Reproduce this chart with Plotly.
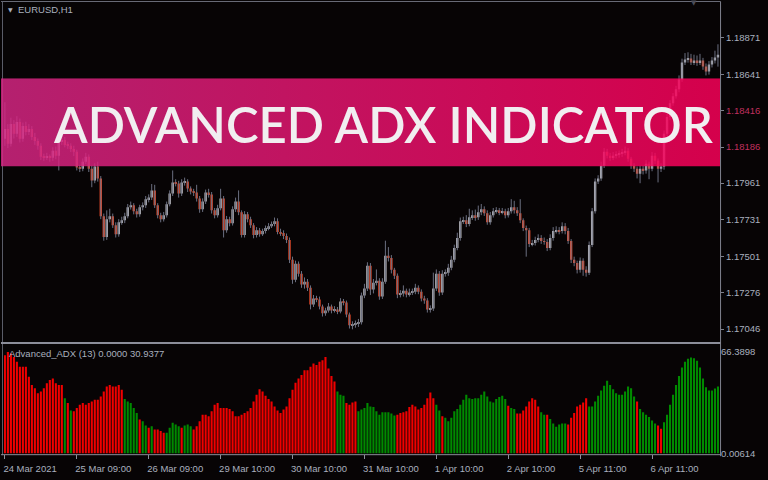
import plotly.graph_objects as go

# ---------------- data ----------------
closes = [
 1.18300, 1.18207, 1.18331, 1.18269, 1.18343, 1.18238, 1.18318, 1.18281, 1.18300, 1.18250,
 1.18225, 1.18194, 1.18126, 1.18120, 1.18126, 1.18120, 1.18163, 1.18132, 1.18219, 1.18231,
 1.18200, 1.18194, 1.18175, 1.18157, 1.18058, 1.18051, 1.18095, 1.18126, 1.18051, 1.17977,
 1.18064, 1.17989, 1.17753, 1.17623, 1.17735, 1.17753, 1.17697, 1.17641, 1.17716, 1.17728,
 1.17753, 1.17809, 1.17822, 1.17784, 1.17766, 1.17809, 1.17822, 1.17859, 1.17871, 1.17915,
 1.17822, 1.17759, 1.17735, 1.17759, 1.17828, 1.17896, 1.17964, 1.17958, 1.17896, 1.17964,
 1.17971, 1.17927, 1.17908, 1.17902, 1.17865, 1.17797, 1.17846, 1.17902, 1.17890, 1.17790,
 1.17759, 1.17803, 1.17865, 1.17666, 1.17735, 1.17710, 1.17797, 1.17846, 1.17778, 1.17635,
 1.17766, 1.17735, 1.17697, 1.17635, 1.17666, 1.17641, 1.17660, 1.17679, 1.17691, 1.17704,
 1.17722, 1.17654, 1.17648, 1.17629, 1.17604, 1.17480, 1.17356, 1.17455, 1.17393, 1.17325,
 1.17343, 1.17306, 1.17201, 1.17238, 1.17232, 1.17188, 1.17145, 1.17163, 1.17188, 1.17163,
 1.17169, 1.17157, 1.17219, 1.17213, 1.17138, 1.17070, 1.17076, 1.17082, 1.17089, 1.17256,
 1.17300, 1.17443, 1.17294, 1.17337, 1.17349, 1.17250, 1.17343, 1.17505, 1.17492, 1.17418,
 1.17381, 1.17263, 1.17269, 1.17287, 1.17263, 1.17275, 1.17281, 1.17306, 1.17281, 1.17238,
 1.17225, 1.17169, 1.17176, 1.17300, 1.17393, 1.17275, 1.17393, 1.17399, 1.17430, 1.17480,
 1.17554, 1.17617, 1.17722, 1.17728, 1.17704, 1.17747, 1.17759, 1.17747, 1.17778, 1.17797,
 1.17772, 1.17716, 1.17759, 1.17784, 1.17790, 1.17778, 1.17784, 1.17759, 1.17784, 1.17809,
 1.17790, 1.17772, 1.17728, 1.17679, 1.17666, 1.17579, 1.17586, 1.17604, 1.17617, 1.17598,
 1.17592, 1.17554, 1.17617, 1.17660, 1.17666, 1.17660, 1.17691, 1.17660, 1.17598, 1.17480,
 1.17461, 1.17418, 1.17474, 1.17418, 1.17399, 1.17573, 1.17784, 1.17971, 1.17989, 1.18070,
 1.18157, 1.18132, 1.18120, 1.18132, 1.18138, 1.18144, 1.18151, 1.18163, 1.18113, 1.18070,
 1.18051, 1.18020, 1.18051, 1.18039, 1.18082, 1.18051, 1.18132, 1.18101, 1.18051, 1.18064,
 1.18269, 1.18374, 1.18461, 1.18505, 1.18548, 1.18610, 1.18716, 1.18734, 1.18741, 1.18716,
 1.18728, 1.18716, 1.18728, 1.18691, 1.18660, 1.18703, 1.18728, 1.18747, 1.18765,
]

opens = [
 1.18238, 1.18300, 1.18207, 1.18331, 1.18269, 1.18343, 1.18238, 1.18318, 1.18281, 1.18300,
 1.18250, 1.18225, 1.18194, 1.18126, 1.18120, 1.18126, 1.18120, 1.18163, 1.18132, 1.18219,
 1.18231, 1.18200, 1.18194, 1.18175, 1.18157, 1.18058, 1.18051, 1.18095, 1.18126, 1.18051,
 1.17977, 1.18064, 1.17989, 1.17753, 1.17623, 1.17735, 1.17753, 1.17697, 1.17641, 1.17716,
 1.17728, 1.17753, 1.17809, 1.17822, 1.17784, 1.17766, 1.17809, 1.17822, 1.17859, 1.17871,
 1.17915, 1.17822, 1.17759, 1.17735, 1.17759, 1.17828, 1.17896, 1.17964, 1.17958, 1.17896,
 1.17964, 1.17971, 1.17927, 1.17908, 1.17902, 1.17865, 1.17797, 1.17846, 1.17902, 1.17890,
 1.17790, 1.17759, 1.17803, 1.17865, 1.17666, 1.17735, 1.17710, 1.17797, 1.17846, 1.17778,
 1.17635, 1.17766, 1.17735, 1.17697, 1.17635, 1.17666, 1.17641, 1.17660, 1.17679, 1.17691,
 1.17704, 1.17722, 1.17654, 1.17648, 1.17629, 1.17604, 1.17480, 1.17356, 1.17455, 1.17393,
 1.17325, 1.17343, 1.17306, 1.17201, 1.17238, 1.17232, 1.17188, 1.17145, 1.17163, 1.17188,
 1.17163, 1.17169, 1.17157, 1.17219, 1.17213, 1.17138, 1.17070, 1.17076, 1.17082, 1.17089,
 1.17256, 1.17300, 1.17443, 1.17294, 1.17337, 1.17349, 1.17250, 1.17343, 1.17505, 1.17492,
 1.17418, 1.17381, 1.17263, 1.17269, 1.17287, 1.17263, 1.17275, 1.17281, 1.17306, 1.17281,
 1.17238, 1.17225, 1.17169, 1.17176, 1.17300, 1.17393, 1.17275, 1.17393, 1.17399, 1.17430,
 1.17480, 1.17554, 1.17617, 1.17722, 1.17728, 1.17704, 1.17747, 1.17759, 1.17747, 1.17778,
 1.17797, 1.17772, 1.17716, 1.17759, 1.17784, 1.17790, 1.17778, 1.17784, 1.17759, 1.17784,
 1.17809, 1.17790, 1.17772, 1.17728, 1.17679, 1.17666, 1.17579, 1.17586, 1.17604, 1.17617,
 1.17598, 1.17592, 1.17554, 1.17617, 1.17660, 1.17666, 1.17660, 1.17691, 1.17660, 1.17598,
 1.17480, 1.17461, 1.17418, 1.17474, 1.17418, 1.17399, 1.17573, 1.17784, 1.17971, 1.17989,
 1.18070, 1.18157, 1.18132, 1.18120, 1.18132, 1.18138, 1.18144, 1.18151, 1.18163, 1.18113,
 1.18070, 1.18051, 1.18020, 1.18051, 1.18039, 1.18082, 1.18051, 1.18132, 1.18101, 1.18051,
 1.18064, 1.18269, 1.18374, 1.18461, 1.18505, 1.18548, 1.18610, 1.18716, 1.18734, 1.18741,
 1.18716, 1.18728, 1.18716, 1.18728, 1.18691, 1.18660, 1.18703, 1.18728, 1.18747,
]

highs = [
 1.18467, 1.18330, 1.18370, 1.18355, 1.18380, 1.18365, 1.18340, 1.18345, 1.18330, 1.18318,
 1.18275, 1.18240, 1.18210, 1.18145, 1.18150, 1.18140, 1.18185, 1.18190, 1.18245, 1.18260,
 1.18250, 1.18220, 1.18210, 1.18195, 1.18170, 1.18075, 1.18115, 1.18150, 1.18140, 1.18070,
 1.18085, 1.18095, 1.18005, 1.17770, 1.17790, 1.17800, 1.17770, 1.17715, 1.17735, 1.17750,
 1.17775, 1.17830, 1.17845, 1.17835, 1.17800, 1.17825, 1.17840, 1.17880, 1.17890, 1.17955,
 1.17950, 1.17835, 1.17775, 1.17780, 1.17845, 1.17915, 1.18040, 1.17985, 1.17975, 1.17985,
 1.17995, 1.17985, 1.17940, 1.17925, 1.17950, 1.17880, 1.17865, 1.17920, 1.17925, 1.17905,
 1.17805, 1.17825, 1.17925, 1.17880, 1.17755, 1.17750, 1.17815, 1.17870, 1.17915, 1.17790,
 1.17785, 1.17780, 1.17750, 1.17710, 1.17685, 1.17680, 1.17675, 1.17695, 1.17710, 1.17720,
 1.17745, 1.17740, 1.17675, 1.17665, 1.17645, 1.17620, 1.17500, 1.17475, 1.17470, 1.17410,
 1.17370, 1.17360, 1.17320, 1.17260, 1.17255, 1.17250, 1.17200, 1.17180, 1.17210, 1.17200,
 1.17190, 1.17185, 1.17240, 1.17235, 1.17225, 1.17150, 1.17095, 1.17100, 1.17110, 1.17275,
 1.17330, 1.17465, 1.17460, 1.17360, 1.17420, 1.17365, 1.17365, 1.17600, 1.17560, 1.17510,
 1.17430, 1.17395, 1.17290, 1.17320, 1.17300, 1.17300, 1.17300, 1.17330, 1.17320, 1.17295,
 1.17255, 1.17240, 1.17195, 1.17400, 1.17420, 1.17410, 1.17415, 1.17420, 1.17455, 1.17505,
 1.17575, 1.17650, 1.17745, 1.17750, 1.17760, 1.17800, 1.17790, 1.17795, 1.17820, 1.17830,
 1.17815, 1.17790, 1.17780, 1.17805, 1.17810, 1.17805, 1.17805, 1.17800, 1.17805, 1.17860,
 1.17850, 1.17810, 1.17860, 1.17740, 1.17695, 1.17680, 1.17605, 1.17625, 1.17640, 1.17635,
 1.17620, 1.17610, 1.17640, 1.17685, 1.17690, 1.17685, 1.17715, 1.17710, 1.17680, 1.17610,
 1.17500, 1.17475, 1.17495, 1.17490, 1.17440, 1.17595, 1.17805, 1.17990, 1.18010, 1.18095,
 1.18180, 1.18175, 1.18150, 1.18155, 1.18160, 1.18165, 1.18175, 1.18190, 1.18180, 1.18125,
 1.18085, 1.18065, 1.18070, 1.18070, 1.18105, 1.18095, 1.18155, 1.18150, 1.18115, 1.18085,
 1.18290, 1.18395, 1.18480, 1.18525, 1.18570, 1.18635, 1.18740, 1.18775, 1.18780, 1.18770,
 1.18765, 1.18760, 1.18770, 1.18745, 1.18710, 1.18725, 1.18750, 1.18790, 1.18830,
]

lows = [
 1.18194, 1.18180, 1.18190, 1.18240, 1.18250, 1.18215, 1.18220, 1.18260, 1.18262, 1.18230,
 1.18200, 1.18170, 1.18105, 1.18100, 1.18105, 1.18095, 1.18100, 1.18110, 1.18040, 1.18200,
 1.18185, 1.18175, 1.18155, 1.18130, 1.18040, 1.18030, 1.18035, 1.18080, 1.18030, 1.17935,
 1.17960, 1.17970, 1.17735, 1.17600, 1.17605, 1.17715, 1.17680, 1.17620, 1.17625, 1.17700,
 1.17710, 1.17740, 1.17795, 1.17765, 1.17745, 1.17750, 1.17790, 1.17805, 1.17840, 1.17855,
 1.17805, 1.17740, 1.17715, 1.17720, 1.17745, 1.17815, 1.17880, 1.17940, 1.17870, 1.17880,
 1.17945, 1.17905, 1.17890, 1.17880, 1.17845, 1.17775, 1.17780, 1.17830, 1.17870, 1.17770,
 1.17740, 1.17745, 1.17790, 1.17620, 1.17650, 1.17690, 1.17695, 1.17780, 1.17760, 1.17620,
 1.17620, 1.17715, 1.17680, 1.17615, 1.17620, 1.17625, 1.17630, 1.17645, 1.17665, 1.17680,
 1.17690, 1.17640, 1.17630, 1.17610, 1.17585, 1.17460, 1.17330, 1.17340, 1.17375, 1.17305,
 1.17300, 1.17285, 1.17170, 1.17185, 1.17215, 1.17170, 1.17125, 1.17130, 1.17150, 1.17145,
 1.17150, 1.17140, 1.17145, 1.17195, 1.17120, 1.17050, 1.17045, 1.17055, 1.17060, 1.17075,
 1.17240, 1.17285, 1.17260, 1.17270, 1.17320, 1.17230, 1.17235, 1.17330, 1.17470, 1.17395,
 1.17360, 1.17240, 1.17245, 1.17250, 1.17245, 1.17250, 1.17260, 1.17265, 1.17265, 1.17220,
 1.17205, 1.17150, 1.17150, 1.17160, 1.17285, 1.17255, 1.17260, 1.17375, 1.17380, 1.17415,
 1.17465, 1.17540, 1.17600, 1.17705, 1.17685, 1.17690, 1.17730, 1.17725, 1.17730, 1.17760,
 1.17755, 1.17700, 1.17700, 1.17745, 1.17770, 1.17760, 1.17765, 1.17740, 1.17745, 1.17770,
 1.17770, 1.17755, 1.17710, 1.17660, 1.17500, 1.17560, 1.17565, 1.17570, 1.17590, 1.17580,
 1.17575, 1.17535, 1.17540, 1.17600, 1.17645, 1.17640, 1.17645, 1.17640, 1.17580, 1.17460,
 1.17440, 1.17395, 1.17400, 1.17380, 1.17375, 1.17385, 1.17560, 1.17770, 1.17955, 1.17975,
 1.18055, 1.18115, 1.18100, 1.18105, 1.18115, 1.18120, 1.18125, 1.18135, 1.18095, 1.18050,
 1.18030, 1.17990, 1.17960, 1.18015, 1.18020, 1.17985, 1.18035, 1.18080, 1.17965, 1.18030,
 1.18045, 1.18255, 1.18355, 1.18445, 1.18490, 1.18530, 1.18595, 1.18700, 1.18715, 1.18700,
 1.18700, 1.18695, 1.18700, 1.18670, 1.18635, 1.18640, 1.18685, 1.18710, 1.18690,
]

adx_values = [
 64.3, 66.39, 65.4, 63.2, 60.0, 56.7, 56.7, 56.7, 50.2, 44.8,
 42.6, 39.4, 40.5, 42.6, 45.9, 48.1, 49.1, 45.9, 44.8, 44.8,
 36.1, 32.9, 28.1, 27.5, 29.7, 31.8, 32.9, 31.8, 32.9, 34.0,
 35.1, 35.1, 37.2, 40.5, 43.7, 44.8, 43.7, 43.7, 44.8, 41.6,
 35.5, 34.0, 32.9, 29.7, 26.4, 22.1, 21.0, 18.2, 16.7, 17.7,
 15.6, 15.6, 14.5, 13.4, 13.4, 16.7, 19.9, 18.8, 17.7, 16.7,
 18.2, 18.8, 17.7, 15.6, 17.7, 21.0, 25.3, 25.3, 24.2, 27.5,
 31.8, 32.9, 29.7, 29.7, 29.7, 29.0, 27.5, 24.2, 24.2, 25.3,
 26.4, 27.5, 29.7, 34.0, 38.3, 42.0, 40.5, 37.7, 35.5, 34.0,
 30.7, 28.1, 26.4, 28.6, 30.7, 36.1, 41.6, 46.3, 49.1, 51.3,
 54.5, 54.5, 56.7, 58.9, 57.8, 60.0, 61.0, 63.2, 55.6, 50.6,
 47.0, 40.5, 38.3, 37.7, 32.9, 31.8, 33.3, 34.0, 27.5, 28.6,
 29.7, 32.9, 30.7, 30.3, 27.5, 25.3, 26.8, 26.8, 26.8, 26.0,
 24.7, 25.3, 26.4, 26.8, 27.5, 30.3, 31.8, 30.7, 28.6, 29.7,
 31.8, 36.1, 39.8, 36.1, 31.8, 28.1, 24.2, 23.2, 21.0, 23.2,
 27.5, 29.0, 31.8, 35.1, 38.3, 36.1, 35.5, 36.1, 36.1, 38.3,
 40.5, 37.2, 34.0, 33.3, 35.5, 36.8, 37.7, 35.5, 31.2, 29.7,
 29.0, 26.0, 26.0, 28.1, 30.7, 34.0, 36.1, 35.1, 30.7, 26.8,
 25.3, 25.3, 22.5, 19.5, 17.3, 18.8, 19.5, 19.5, 18.8, 23.2,
 26.4, 30.7, 31.8, 33.3, 36.1, 30.7, 30.7, 34.0, 37.7, 41.1,
 44.2, 47.6, 44.8, 42.0, 39.4, 38.3, 38.3, 40.5, 43.7, 42.6,
 37.2, 34.0, 29.0, 26.8, 25.3, 23.8, 21.4, 19.5, 18.2, 16.0,
 20.3, 25.3, 31.8, 38.3, 44.8, 50.6, 56.3, 60.0, 61.9, 62.8,
 62.3, 60.6, 56.3, 49.1, 43.3, 41.1, 41.1, 42.4, 43.7,
]

# G = rising (green) bar, R = falling (red) bar
adx_trend = list(
    "RRRRRRRRRR" "RRRRRRRRRR" "GRGRRRRRRR" "RRRRRRRRRR" "GGGGGRGGRG"
    "RRRRGGGGGR" "GGGRRRRRRR" "RRRRRRRRRR" "RRRRRRRRRR" "RRRRRRRRRR"
    "RRRRRRRRRR" "RGGGRRRRGG" "GGGGGGGGGG" "GRRRRRRRRR" "RRRRGGRGGG"
    "GGGGGGGGGG" "GGGGGGGGRG" "GRRRRRRRRG" "GRGGGGGGRR" "RRRRRGGGGG"
    "GGGGGGGGGG" "GRGGGGGGRR" "GGGGGGGGGG" "GGGGGGGGG"
)

price_ticks = [1.18871, 1.18641, 1.18416, 1.18186, 1.17961, 1.17731, 1.17501, 1.17276, 1.17046]
time_tick_bars = [0, 24, 48, 72, 96, 120, 144, 168, 192, 216]
time_tick_labels = ["24 Mar 2021", "25 Mar 09:00", "26 Mar 09:00", "29 Mar 10:00", "30 Mar 10:00",
                    "31 Mar 10:00", "1 Apr 10:00", "2 Apr 10:00", "5 Apr 11:00", "6 Apr 11:00"]
adx_ticks = [66.3898, 0.0]
adx_tick_labels = ["66.3898", "0.00614"]

symbol_label = "EURUSD,H1"
indicator_label = "Advanced_ADX (13) 0.0000 30.9377"
banner_text = "ADVANCED ADX INDICATOR"

# ---------------- styling ----------------
W, H = 768, 480
BG = "#070405"
TXT = "#a9b0bf"
FONT = "Liberation Sans"
UP = "#c4c4c8"
DN = "#ea4a2a"
WICK = "#6b6f80"

def fx(p):
    return p / W

def fy(p):
    return 1 - p / H

n = len(closes)
idx = list(range(n))

# wicks
wx, wy = [], []
for i in idx:
    wx += [i, i, None]
    wy += [lows[i], highs[i], None]

bases = [min(o, c) for o, c in zip(opens, closes)]
heights = [abs(c - o) for o, c in zip(opens, closes)]
body_colors = [UP if c >= o else DN for o, c in zip(opens, closes)]
adx_colors = ["#008a00" if t == "G" else "#f00000" for t in adx_trend]

fig = go.Figure()
fig.add_trace(go.Scatter(x=wx, y=wy, mode="lines", line=dict(color=WICK, width=1),
                         hoverinfo="skip", xaxis="x", yaxis="y"))
fig.add_trace(go.Bar(x=idx, y=heights, base=bases, width=0.78,
                     marker=dict(color=body_colors, line=dict(width=0)),
                     hoverinfo="skip", xaxis="x", yaxis="y"))
fig.add_trace(go.Bar(x=idx, y=adx_values, width=0.7,
                     marker=dict(color=adx_colors, line=dict(width=0)),
                     hoverinfo="skip", xaxis="x2", yaxis="y2"))
# banner: one filled rectangle with a horizontal gradient, on its own overlay axes
fig.add_trace(go.Scatter(x=[0, 1, 1, 0, 0], y=[0, 0, 1, 1, 0], mode="lines", fill="toself",
                         line=dict(width=0, color="rgba(0,0,0,0)"),
                         fillgradient=dict(type="horizontal",
                                           colorscale=[[0, "rgb(213,38,131)"], [1, "rgb(252,0,89)"]]),
                         opacity=0.84, hoverinfo="skip", xaxis="x3", yaxis="y3"))

xr = [-0.3, n - 0.3]
price_text = []
for v in price_ticks:
    s = f"{v:.5f}"
    if v in (1.18416, 1.18186):
        s = f"<span style='color:#c0305f'>{s}</span>"
    price_text.append(s)

fig.update_layout(
    width=W, height=H, margin=dict(l=0, r=0, t=0, b=0),
    paper_bgcolor=BG, plot_bgcolor="rgba(0,0,0,0)", showlegend=False, hovermode=False,
    barmode="overlay",
    xaxis=dict(domain=[fx(3), fx(720)], range=xr, showgrid=False, zeroline=False,
               showticklabels=False, ticks="", anchor="y", fixedrange=True),
    yaxis=dict(domain=[fy(344), fy(2)], range=[1.16971, 1.19095], side="right",
               showgrid=False, zeroline=False, tickvals=price_ticks, ticktext=price_text,
               ticks="outside", ticklen=3, tickcolor="#7c7f8c",
               tickfont=dict(family=FONT, size=9.5, color=TXT), anchor="x"),
    xaxis2=dict(domain=[fx(3), fx(720)], range=xr, showgrid=False, zeroline=False,
                tickvals=time_tick_bars, ticktext=time_tick_labels, ticks="outside",
                ticklen=4, tickcolor="#8c8e9a", ticklabelposition="outside right",
                ticklabelstandoff=5, ticklabelshift=-2,
                tickfont=dict(family=FONT, size=9.5, color=TXT), anchor="y2"),
    yaxis2=dict(domain=[fy(458), fy(349)], range=[-0.65, 70.29], side="right",
                showgrid=False, zeroline=False, tickvals=adx_ticks, ticktext=adx_tick_labels,
                ticks="", tickfont=dict(family=FONT, size=9.5, color=TXT), anchor="x2"),
    xaxis3=dict(domain=[0, fx(720)], range=[0, 1], visible=False, anchor="y3"),
    yaxis3=dict(domain=[fy(168), fy(79)], range=[0, 1], visible=False, anchor="x3"),
)

shapes = []
def hline(y, x0, x1, color, w=1):
    shapes.append(dict(type="line", xref="paper", yref="paper", x0=fx(x0), x1=fx(x1),
                       y0=fy(y), y1=fy(y), line=dict(color=color, width=w), layer="below"))

def vline(x, y0, y1, color, w=1):
    shapes.append(dict(type="line", xref="paper", yref="paper", x0=fx(x), x1=fx(x),
                       y0=fy(y0), y1=fy(y1), line=dict(color=color, width=w), layer="below"))

# frames (drawn beneath the banner)
hline(1.5, 0, 720.5, "#6a6c78")
vline(1.5, 1.5, 459, "#5c5e6a")
vline(720.5, 1.5, 460, "#80838f")
hline(346, 0, 720.5, "#8c8e9a", 2)
hline(458.5, 0, 720.5, "#8c8e9a")
fig.update_layout(shapes=shapes)

ann = [
    dict(text="▼", x=fx(5), y=fy(9.5), xanchor="left", yanchor="middle", showarrow=False,
         font=dict(family="DejaVu Sans", size=6, color=TXT)),
    dict(text=symbol_label, x=fx(15), y=fy(10), xanchor="left", yanchor="middle", showarrow=False,
         font=dict(family=FONT, size=9.5, color=TXT)),
    dict(text=indicator_label, x=fx(6), y=fy(356), xanchor="left", yanchor="middle", showarrow=False,
         font=dict(family=FONT, size=9.5, color=TXT)),
    dict(text="▼", x=fx(694), y=fy(3), xanchor="center", yanchor="middle", showarrow=False,
         font=dict(family="DejaVu Sans", size=7, color="#4a4c58")),
    dict(text=banner_text, x=fx(383), y=fy(125), xanchor="center", yanchor="middle", showarrow=False,
         font=dict(family="Lato", size=49, color="#f1eef0", weight=600)),
]
for a in ann:
    a["xref"] = "paper"
    a["yref"] = "paper"
fig.update_layout(annotations=ann)

fig.write_html(
    "out.html",
    config={"displayModeBar": False},
    post_script="document.body.style.margin='0';document.body.style.padding='0';"
                "document.body.style.background='" + BG + "';",
)
